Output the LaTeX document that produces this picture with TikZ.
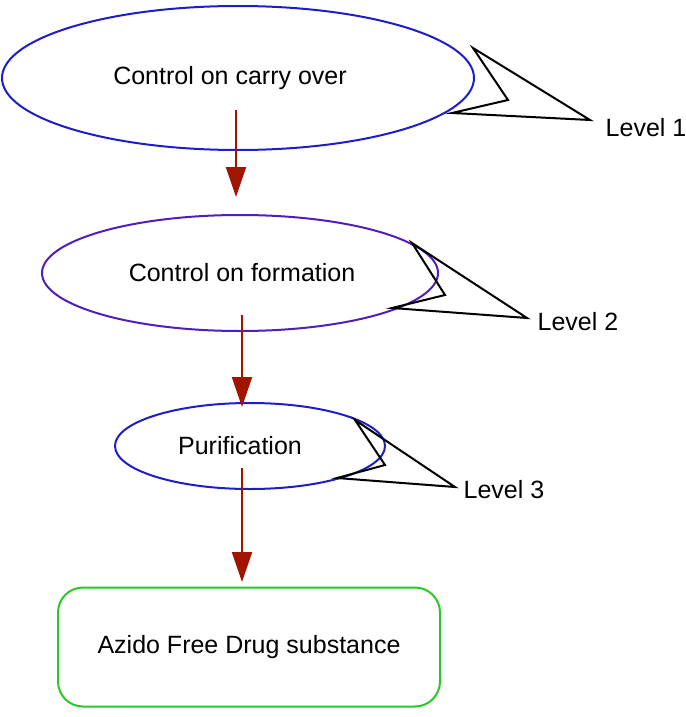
\documentclass[tikz,border=0pt]{standalone}
\usepackage{fontspec}
\setmainfont{Liberation Sans}
\usetikzlibrary{shapes.geometric,arrows.meta}
\definecolor{darkred}{RGB}{160,20,0}
\definecolor{elblue}{RGB}{30,30,200}
\definecolor{elpurple}{RGB}{80,30,190}
\definecolor{boxgreen}{RGB}{40,200,40}
\tikzset{
  lvl/.style={ellipse, line width=2pt, inner sep=0pt},
  lab/.style={font=\fontsize{25}{30}\selectfont},
  flow/.style={darkred, line width=2pt, -{Triangle[width=20pt,length=30pt]}},
  callout/.style={black, line width=2pt, line join=miter}
}
\begin{document}
\begin{tikzpicture}[x=1pt,y=-1pt]
	\useasboundingbox (0,0) rectangle (685,717);
	% levels
	\node[lvl, draw=elblue, minimum width=472pt, minimum height=144pt] (e1) at (238,78) {};
	\node[lab] at (230,78) {Control on carry over};
	\node[lvl, draw=elpurple, minimum width=396pt, minimum height=116pt] (e2) at (240,273) {};
	\node[lab] at (242,273) {Control on formation};
	\node[lvl, draw=elblue, minimum width=270pt, minimum height=86pt] (e3) at (250,446) {};
	\node[lab] at (240,446) {Purification};
	\node[draw=boxgreen, line width=2pt, rounded corners=25pt, minimum width=382pt, minimum height=119pt,
	      lab] (drug) at (249,647) {Azido Free Drug substance};
	% callouts
	\node[lab] (l1) at (646,128) {Level 1};
	\node[lab] (l2) at (578,322) {Level 2};
	\node[lab] (l3) at (504,490) {Level 3};
	\draw[callout] (473,48) -- (590,120) -- (452,113) -- (508,100) -- cycle;
	\draw[callout] (412,243) -- (527,318) -- (392,308) -- (445,295) -- cycle;
	\draw[callout] (355,420) -- (455,487) -- (337,478) -- (385,465) -- cycle;
	% arrows
	\coordinate (a1) at (236,110);
	\coordinate (a2) at (242,315);
	\coordinate (a3) at (242,468);
	\draw[flow] (a1) -- (a1 |- 0,197);
	\draw[flow] (a2) -- (a2 |- 0,407);
	\draw[flow] (a3) -- (a3 |- 0,582);
\end{tikzpicture}
\end{document}
